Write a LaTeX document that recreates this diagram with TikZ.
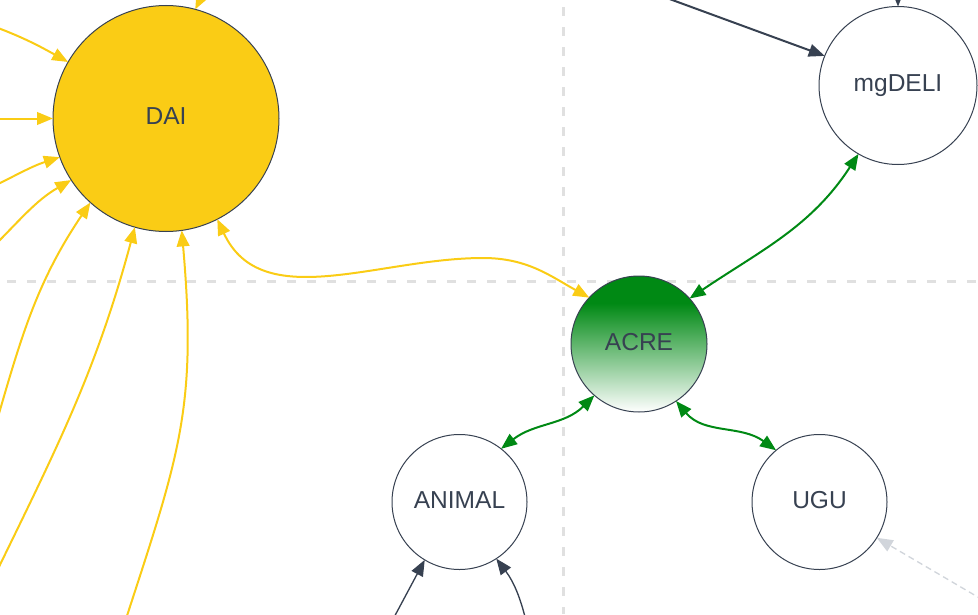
\documentclass[tikz,border=0pt]{standalone}
\usepackage{fontspec}
\setmainfont{Liberation Sans}
\usetikzlibrary{arrows.meta}
\definecolor{accY}{RGB}{250,204,21}
\definecolor{accR}{RGB}{0,137,20}
\definecolor{ink}{RGB}{55,65,81}
\definecolor{rule}{RGB}{224,224,224}
\definecolor{faint}{RGB}{209,213,219}
\pgfdeclareverticalshading{acrefade}{100bp}{color(0bp)=(white);
  color(25bp)=(white); color(65bp)=(accR); color(100bp)=(accR)}
\tikzset{
  unit/.style  ={circle, draw=ink, line width=0.75pt, inner sep=0pt,
                 outer sep=0pt, text=ink, font=\fontsize{18.4}{22}\selectfont,
                 text height=13.2pt, text depth=3.9pt},
  Lhub/.style  ={unit, fill=accY, minimum size=169.5pt},
  Lbig/.style  ={unit, fill=white, minimum size=118.5pt},
  Lmid/.style  ={unit, fill=white, minimum size=101.25pt},
  Lcore/.style ={unit, shade, shading=acrefade, minimum size=102pt},
  gridline/.style={rule, line width=2.25pt, dash pattern=on 7.1pt off 7.9pt},
  feed/.style  ={->, accY, line width=1.5pt},
  pair/.style  ={<->, accR, line width=1.5pt},
  pull/.style  ={->, ink, line width=1.5pt},
  weak/.style  ={->, faint, line width=1pt, dash pattern=on 4.5pt off 3pt},
  >={Triangle[length=12pt, width=9.5pt]},
}

\begin{document}
\begin{tikzpicture}[x=0.75pt, y=-0.75pt]
\useasboundingbox (0,0) rectangle (978,614);

% quadrant lines
\coordinate (gW) at (7,281);   \coordinate (gE) at (978,281);
\coordinate (gN) at (563,7);   \coordinate (gS) at (563,614);
\draw[gridline] (gW) -- (gE);
\draw[gridline] (gN) -- (gS);

% units
\node[Lhub]  (DAI)    at (166,118.5) {DAI};
\node[Lbig]  (DELI)   at (898,85.5)  {mgDELI};
\node[Lcore] (ACRE)   at (639,344)   {ACRE};
\node[Lmid]  (ANIMAL) at (459.5,502) {ANIMAL};
\node[Lmid]  (UGU)    at (819.5,502) {UGU};

% feeds into DAI
\coordinate (y1) at (-10,25);
\coordinate (y2) at (-10,118.5);
\coordinate (y3) at (-10,188);
\coordinate (y4) at (-8,248);
\coordinate (y5) at (-4,424);
\coordinate (y6) at (-5,575);
\coordinate (y7) at (124,625);
\coordinate (y8) at (207,-14);
\draw[feed] (y1) to[out=-20, in=151] (DAI.150);
\draw[feed] (y2) -- (DAI.180);
\draw[feed] (y3) to[out=26, in=198] (DAI.200);
\draw[feed] (y4) to[out=45, in=210] (DAI.213);
\draw[feed] (y5) to[out=74, in=236] (DAI.228);
\draw[feed] (y6) to[out=64, in=255] (DAI.254);
\draw[feed] (y7) to[out=72, in=275, looseness=1.15] (DAI.278);
\draw[feed] (y8) -- (DAI.75);

% DAI <-> ACRE
\coordinate (bend) at (483,258);
\draw[feed, <->] (DAI.297) to[out=-65, in=180] (bend)
                           to[out=0, in=151] (ACRE.137);

% ACRE links
\draw[pair] (ACRE.42) to[out=34, in=237] (DELI.240);
\draw[pair] (ANIMAL.52) to[out=38, in=225] (ACRE.229);
\draw[pair] (ACRE.303) to[out=-50, in=144] (UGU.130);

% other inflows
\coordinate (d1) at (645,-10);
\coordinate (d2) at (898,-12);
\coordinate (d3) at (391,623);
\coordinate (d4) at (527,625);
\coordinate (g1) at (1000,610);
\draw[pull] (d1) -- (DELI.158.5);
\draw[pull, line width=1pt] (d2) -- (DELI.90);
\draw[pull, line width=1pt] (d3) -- (ANIMAL.239.5);
\draw[pull, line width=1pt] (d4) to[out=103, in=-53] (ANIMAL.303);
\draw[weak] (g1) -- (UGU.328);

\end{tikzpicture}
\end{document}
